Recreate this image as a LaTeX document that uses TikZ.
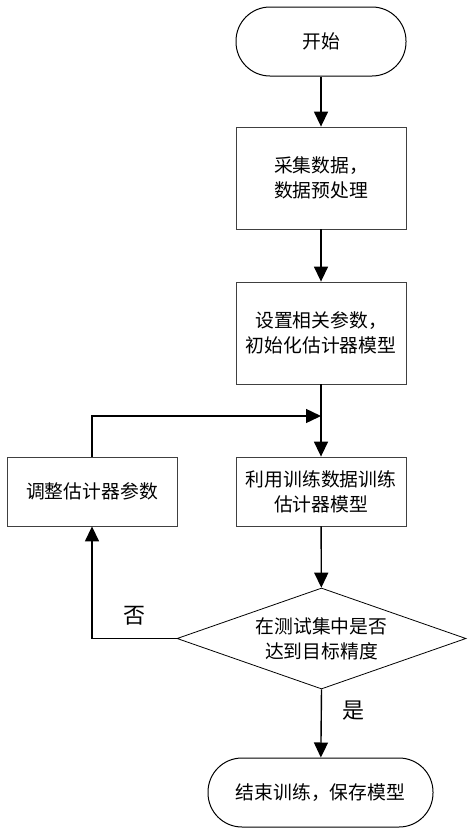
\documentclass[tikz,border=0pt]{standalone}
\usepackage{fontspec}
\newfontfamily\cjk{Noto Sans CJK SC}
\usetikzlibrary{shapes.geometric,arrows.meta}
\begin{document}
\begin{tikzpicture}[x=1pt,y=-1pt,
  font=\cjk\fontsize{18.8}{25}\selectfont,
  box/.style={draw=black!75,line width=0.8pt,minimum width=170pt,minimum height=102pt,align=center,inner sep=0pt},
  term/.style={draw=black,line width=1pt,rounded corners=34pt,align=center,inner sep=0pt},
  flow/.style={draw=black,line width=1.4pt,-{Triangle[length=15pt,width=14pt]}},
  lbl/.style={font=\cjk\fontsize{22}{26}\selectfont}]
\useasboundingbox (0,0) rectangle (474,835);
\node[term,minimum width=170pt,minimum height=69pt] (start) at (321,41.5) {开始};
\node[box] (collect) at (321,178) {采集数据，\\数据预处理};
\node[box] (init) at (321,333) {设置相关参数，\\初始化估计器模型};
\coordinate (junc) at (321,416);
\node[box,minimum height=69pt] (train) at (321,491.5) {利用训练数据训练\\估计器模型};
\node[box,minimum height=69pt] (adjust) at (92,491.5) {调整估计器参数};
\node[diamond,draw=black,line width=0.8pt,minimum width=289pt,minimum height=101pt,inner sep=0pt,aspect=2.86,align=center] (test) at (321.5,638.5) {在测试集中是否\\达到目标精度};
\node[term,minimum width=225pt,minimum height=69pt] (end) at (320.5,792.5) {结束训练，保存模型};
\node[lbl] (no) at (134,616) {否};
\node[lbl] (yes) at (353,711) {是};
\draw[flow] (start) -- (collect);
\draw[flow] (collect) -- (init);
\draw[line width=1.4pt] (init) -- (junc);
\draw[flow] (junc) -- (train);
\draw[flow] (train) -- (test);
\draw[flow] (test.south) -- (end);
\draw[flow] (test.west) -- (test.west -| adjust) -- (adjust);
\draw[flow] (adjust) |- (junc);
\end{tikzpicture}
\end{document}
